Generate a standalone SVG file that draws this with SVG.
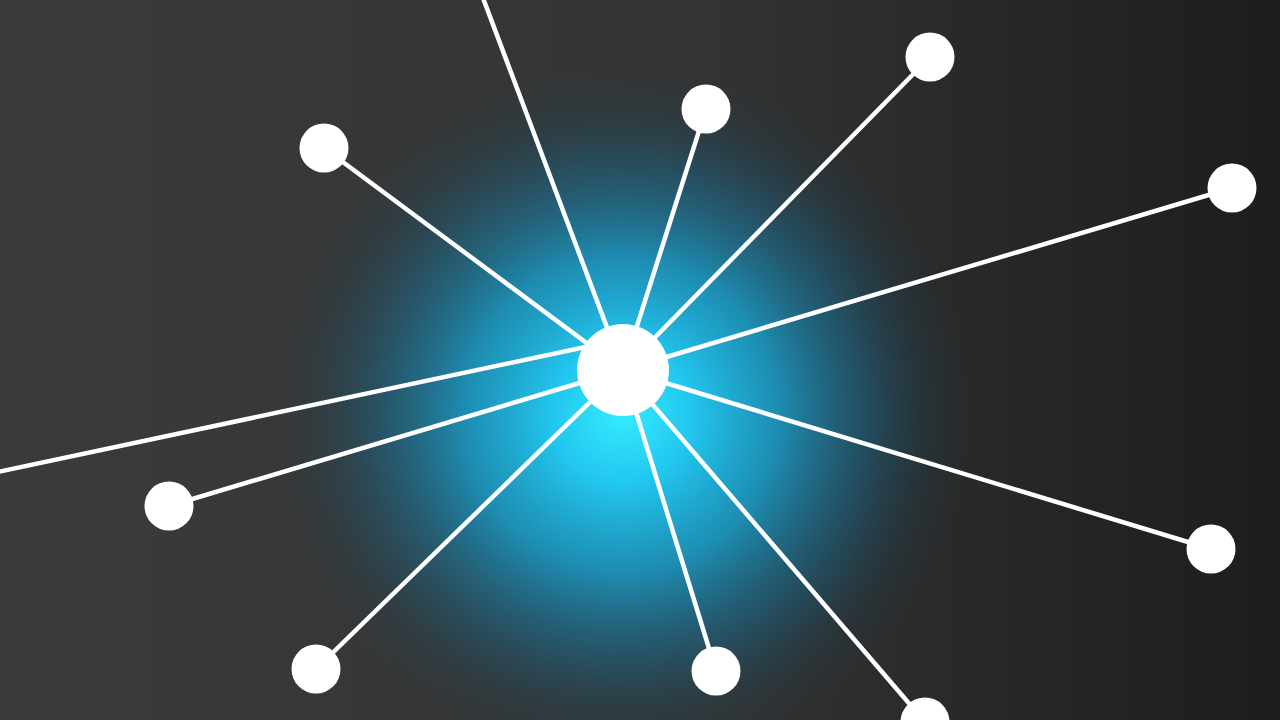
<svg xmlns="http://www.w3.org/2000/svg" width="1280" height="720" viewBox="0 0 1280 720">
  <defs>
    <linearGradient id="bg" x1="0" y1="0" x2="1" y2="0">
      <stop offset="0" stop-color="#3b3b3b"/>
      <stop offset="0.55" stop-color="#333333"/>
      <stop offset="1" stop-color="#1d1d1d"/>
    </linearGradient>
    <radialGradient id="glow" gradientUnits="userSpaceOnUse" cx="622" cy="415" r="350">
      <stop offset="0" stop-color="#33ecff" stop-opacity="1"/>
      <stop offset="0.2" stop-color="#22c6ee" stop-opacity="1"/>
      <stop offset="0.45" stop-color="#1a9cc8" stop-opacity="0.85"/>
      <stop offset="0.7" stop-color="#17749a" stop-opacity="0.45"/>
      <stop offset="0.88" stop-color="#15566f" stop-opacity="0.15"/>
      <stop offset="1" stop-color="#144a60" stop-opacity="0"/>
    </radialGradient>
    <style>
      .spoke { stroke: #ffffff; stroke-width: 4.5; stroke-linecap: round; fill: none; }
      .node { fill: #ffffff; }
    </style>
  </defs>
  <rect width="1280" height="720" fill="url(#bg)"/>
  <rect width="1280" height="720" fill="url(#glow)"/>

  <g id="connectors">
    <line class="spoke" x1="483" y1="-2" x2="623" y2="370"/>
    <line class="spoke" x1="-2" y1="472" x2="623" y2="339"/>
    <line class="spoke" x1="324" y1="148" x2="623" y2="370"/>
    <line class="spoke" x1="706" y1="109" x2="623" y2="370"/>
    <line class="spoke" x1="930" y1="57" x2="623" y2="370"/>
    <line class="spoke" x1="1232" y1="188" x2="623" y2="370"/>
    <line class="spoke" x1="1211" y1="549" x2="623" y2="370"/>
    <line class="spoke" x1="925" y1="722" x2="623" y2="370"/>
    <line class="spoke" x1="716" y1="671" x2="623" y2="370"/>
    <line class="spoke" x1="316" y1="669" x2="623" y2="370"/>
    <line class="spoke" x1="169" y1="506" x2="623" y2="370"/>
  </g>

  <g id="hub"><circle class="node" cx="623" cy="370" r="46"/></g>
  <g id="n1"><circle class="node" cx="324" cy="148" r="24.5"/></g>
  <g id="n2"><circle class="node" cx="706" cy="109" r="24.5"/></g>
  <g id="n3"><circle class="node" cx="930" cy="57" r="24.5"/></g>
  <g id="n4"><circle class="node" cx="1232" cy="188" r="24.5"/></g>
  <g id="n5"><circle class="node" cx="1211" cy="549" r="24.5"/></g>
  <g id="n6"><circle class="node" cx="925" cy="722" r="24.5"/></g>
  <g id="n7"><circle class="node" cx="716" cy="671" r="24.5"/></g>
  <g id="n8"><circle class="node" cx="316" cy="669" r="24.5"/></g>
  <g id="n9"><circle class="node" cx="169" cy="506" r="24.5"/></g>
</svg>
